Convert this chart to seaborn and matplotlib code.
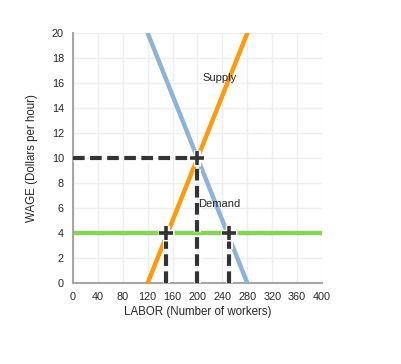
import pandas as pd
import matplotlib
matplotlib.use("Agg")
import matplotlib.pyplot as plt
import matplotlib.patheffects as pe
import seaborn as sns

# curves
supply_x = [120, 280]
supply_y = [0, 20]
demand_x = [120, 280]
demand_y = [20, 0]
min_wage = 4
wage_x = [0, 400]

# points of interest
eq_labor, eq_wage = 200, 10
qs_labor = 150   # labor supplied at min wage
qd_labor = 250   # labor demanded at min wage
x_ticks = list(range(0, 401, 40))
y_ticks = list(range(0, 21, 2))

sns.set_style("white")
plt.rcParams['font.family'] = ['Liberation Sans', 'DejaVu Sans']

fig = plt.figure(figsize=(4.01, 3.64), dpi=100)
ax = fig.add_axes([0.182, 0.2225, 0.621, 0.6865])

sns.lineplot(x=wage_x, y=[min_wage, min_wage], color='#88d15a', lw=3.2, ax=ax, zorder=2)
sns.lineplot(x=demand_x, y=demand_y, color='#8db3d8', lw=3.2, ax=ax, sort=False, zorder=3)
sns.lineplot(x=supply_x, y=supply_y, color='#ff9a0a', lw=3.2, ax=ax, sort=False, zorder=3)

white = [pe.Stroke(linewidth=5, foreground='white'), pe.Normal()]
dash = dict(color='#333333', lw=3, ls=(0, (2.8, 1.3)), zorder=4)
guides = pd.DataFrame({
    'x': [[0, eq_labor], [eq_labor, eq_labor], [qs_labor, qs_labor], [qd_labor, qd_labor]],
    'y': [[eq_wage, eq_wage], [0, eq_wage], [0, min_wage], [0, min_wage]],
})
for gx, gy in zip(guides['x'], guides['y']):
    sns.lineplot(x=gx, y=gy, ax=ax, sort=False, estimator=None, **dash)
    ax.lines[-1].set_path_effects(white)

pts = pd.DataFrame({'x': [eq_labor, qs_labor, qd_labor], 'y': [eq_wage, min_wage, min_wage]})
ax.scatter(pts['x'], pts['y'], marker='+', s=140, lw=5.2, color='white', zorder=5)
ax.scatter(pts['x'], pts['y'], marker='+', s=100, lw=2.6, color='#333333', zorder=6)

ax.text(208, 16.4, 'Supply', fontsize=8, va='center', zorder=7)
ax.text(201, 6.3, 'Demand', fontsize=8, va='center', zorder=7)

ax.set_xlim(0, 400)
ax.set_ylim(0, 20)
ax.set_xticks(x_ticks)
ax.set_yticks(y_ticks)
ax.grid(True, color='#eeeeee', lw=1)
ax.set_axisbelow(True)
for s in ['top', 'right']:
    ax.spines[s].set_visible(False)
for s in ['left', 'bottom']:
    ax.spines[s].set_color('#a6a6a6')
    ax.spines[s].set_linewidth(1.5)
ax.tick_params(axis='both', direction='inout', length=7, width=1.2, color='#a6a6a6',
               labelsize=7.8, pad=3)
ax.set_xlabel('LABOR (Number of workers)', fontsize=8.3, labelpad=3)
ax.set_ylabel('WAGE (Dollars per hour)', fontsize=8.3, labelpad=10)

fig.savefig('out.png', dpi=100)
